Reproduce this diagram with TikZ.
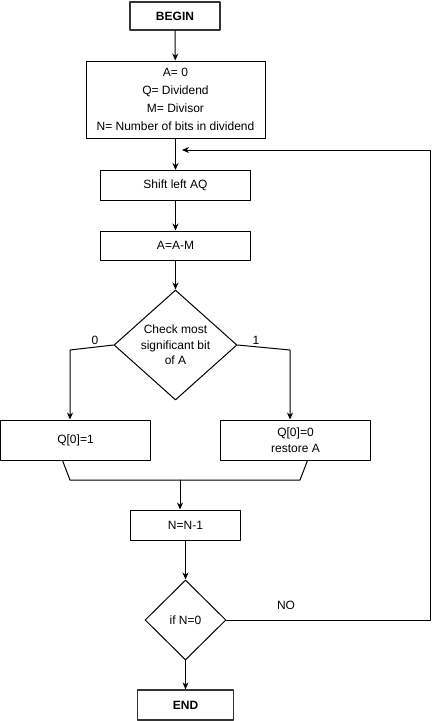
\documentclass[tikz,border=0pt]{standalone}
\usepackage{fontspec}
\setmainfont{Liberation Sans}
\usetikzlibrary{shapes.geometric,arrows.meta}

\tikzset{
  stepbox/.style={draw, rectangle, align=center, inner sep=0pt},
  termbox/.style={stepbox, line width=1.3pt, draw=black!80, font=\fontsize{12}{14}\selectfont\bfseries},
  testbox/.style={draw, diamond, align=center, inner sep=0pt, aspect=1.1}
}

\begin{document}
\begin{tikzpicture}[line cap=round, line join=round, x=1pt, y=-1pt, line width=1pt,
    >={Stealth[length=7pt,width=6pt]}, font=\fontsize{12}{14}\selectfont]

        \useasboundingbox (0,0) rectangle (439,721);

        \node[termbox, minimum width=90pt, minimum height=28pt] (begin) at (175,16) {BEGIN};
        \node[stepbox, minimum width=179pt, minimum height=77pt,
              font=\fontsize{12}{18}\selectfont] (init) at (175.5,99.5)
              {A= 0\\Q= Dividend\\M= Divisor\\N= Number of bits in dividend};
        \node[stepbox, minimum width=150pt, minimum height=30pt] (shift) at (175.5,185.5) {Shift left AQ};
        \node[stepbox, minimum width=150pt, minimum height=29pt] (sub) at (175.5,245.5) {A=A-M};
        \node[testbox, minimum width=123pt, minimum height=110pt,
              font=\fontsize{12}{15.5}\selectfont] (check) at (175.5,345)
              {Check most\\significant bit\\of A};

        \node[stepbox, minimum width=150pt, minimum height=40pt] (q1) at (75.5,440) {Q[0]=1};
        \node[stepbox, minimum width=150pt, minimum height=40pt,
              font=\fontsize{12}{16.5}\selectfont] (q0) at (295.5,440) {Q[0]=0\\restore A};

        \node[stepbox, minimum width=110pt, minimum height=30pt] (dec) at (185.5,525) {N=N-1};
        \node[testbox, minimum width=81pt, minimum height=80pt] (test) at (185.5,620) {if N=0};
        \node[termbox, minimum width=96pt, minimum height=30pt] (end) at (185.5,705) {END};

        \coordinate (l0) at (70,350);
        \coordinate (r1) at (290,350);
        \coordinate (m1) at (70,480);
        \coordinate (m2) at (300,480);
        \coordinate (mj) at (180,480);
        \coordinate (lp1) at (430,150);
        \coordinate (lp2) at (182,150);

        \draw[->] (begin) -- (init);
        \draw[->] (init) -- (shift);
        \draw[->] (shift) -- (sub);
        \draw[->] (sub) -- (check);

        \draw[->] (check.west) -- (l0) -- (l0 |- q1.north);
        \draw[->] (check.east) -- (r1) -- (r1 |- q0.north);
        \node (zero) at (95,340) {0};
        \node (one) at (256,340) {1};

        \draw ([xshift=-13pt]q1.south) -- (m1) -- (m2) -- ([xshift=12pt]q0.south);
        \draw[->] (mj) -- (mj |- dec.north);

        \draw[->] (dec) -- (test);
        \draw[->] (test) -- (end);

        \draw[->] (test.east) -| (lp1) -- (lp2);
        \node (no) at (286,605) {NO};

    \end{tikzpicture}
\end{document}
